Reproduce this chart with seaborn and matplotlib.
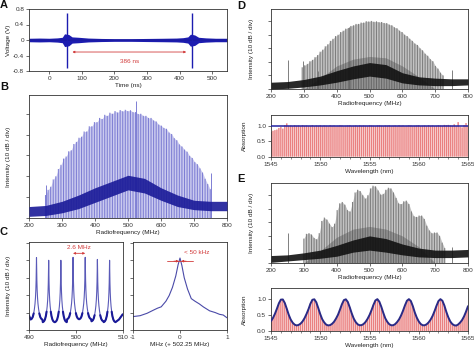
import numpy as np
import matplotlib
matplotlib.use("Agg")
import matplotlib.pyplot as plt
import seaborn as sns

# ---------------- data ----------------
# A: oscilloscope trace (noise envelope) and the two pulses
trace_t = [-62, -30, 0, 25, 40, 47, 60, 70, 90, 120, 160, 200, 250, 300,
           350, 390, 410, 425, 433, 446, 458, 480, 510, 545]
trace_hi = [0.045, 0.05, 0.045, 0.055, 0.07, 0.16, 0.14, 0.08, 0.07, 0.05, 0.04,
            0.035, 0.035, 0.04, 0.045, 0.05, 0.06, 0.08, 0.15, 0.13, 0.07, 0.055,
            0.045, 0.045]
trace_lo = [-0.045, -0.05, -0.045, -0.055, -0.07, -0.17, -0.15, -0.08, -0.07,
            -0.05, -0.04, -0.035, -0.035, -0.04, -0.045, -0.05, -0.06, -0.08,
            -0.16, -0.14, -0.07, -0.055, -0.045, -0.045]
pulse_t = [53, 439]
pulse_top = [0.70, 0.70]
pulse_bottom = [-0.73, -0.73]

# B, D, E: comb teeth (dB) on a regular grid, plus isolated spurs
tooth_spacing = 7.8
b_first = 250.0
b_teeth_db = [11, 13.5, 15, 18.5, 20, 23.5, 25.5, 28.5, 29.5, 32,
              32.5, 35.5, 36.5, 38.5, 39, 41.5, 41.5, 44, 44, 46,
              46, 48, 47.5, 49.5, 49, 50.5, 50, 51.3, 50.6, 51.8,
              51.2, 51.9, 51.3, 51.7, 50.8, 50.8, 49.9, 50, 49, 49,
              48, 48, 46.8, 46.3, 44.8, 44.3, 43.2, 42.8, 41, 40.3,
              38.3, 37.3, 35.3, 34.3, 32.8, 31.8, 29.8, 28.8, 26.8, 25.8,
              23.8, 21.8, 18.8, 16.3, 13.8]
b_spur_mhz = [250.5, 523.0, 750.5]
b_spur_db = [15.6, 56.0, 21.5]

d_first = 295.0
d_teeth_db = [16, 17.5, 18.5, 20.5, 21.5, 23.5, 25, 27.5, 29, 31.5,
              33, 35.5, 37, 39, 40, 42, 43, 44.5, 45, 46.5,
              47, 48, 48, 49, 49, 50, 49.8, 50.2, 49.6, 49.9,
              49.3, 49.4, 48.7, 48.6, 47.5, 47, 45.5, 44.8, 43, 42,
              40, 39, 37, 35.5, 33.5, 32.5, 30, 28.5, 26, 24.5,
              22, 20.5, 17, 15, 12, 10]
d_spur_mhz = [251, 298, 344, 437, 750]
d_spur_db = [21.5, 21, 13, 46, 14]

e_first = 300.0
e_teeth_db = [18, 21.5, 22, 21, 18.5, 17.5, 22, 31, 33.5, 32,
              29, 26.5, 29, 39, 44, 45, 43, 39, 38, 45,
              52, 54, 53, 50, 47.5, 50, 55, 57, 56.5, 53.5,
              50.5, 51, 54, 55.5, 55, 52, 48, 44, 43.5, 45.5,
              46, 43.5, 38, 34.5, 34, 35, 35, 32.5, 27.5, 24,
              22, 22.5, 22.5, 20, 15, 11]
e_spur_mhz = [251, 752]
e_spur_db = [22, 11.5]

# noise floor bands (dB)
floor_mhz = [200, 250, 300, 350, 400, 450, 500, 550, 600, 650, 700, 750, 800]
b_floor_lo = [0.8, 1.2, 2.5, 4.5, 7.5, 10.5, 13.5, 12.0, 8.5, 5.5, 4.0, 3.5, 3.5]
b_floor_hi = [5.5, 6.0, 8.0, 11.0, 14.5, 17.5, 20.5, 19.0, 14.5, 11.0, 8.5, 8.0, 8.0]
d_floor_lo = [0.0, 0.5, 1.5, 3.0, 5.0, 7.5, 9.5, 8.0, 4.5, 3.0, 2.5, 2.5, 3.0]
d_floor_hi = [5.0, 5.5, 7.0, 9.5, 13.5, 17.0, 19.5, 18.0, 12.0, 9.0, 8.0, 7.5, 7.5]
d_dense_hi = [0, 0, 0, 8, 17, 22, 24, 23, 17, 9, 0, 0, 0]
e_floor_lo = [0.5, 1.5, 2.5, 3.5, 5.0, 8.0, 9.5, 8.0, 6.0, 4.5, 4.0, 4.0, 4.5]
e_floor_hi = [5.5, 6.0, 7.5, 9.5, 13.0, 17.0, 20.0, 18.0, 14.0, 11.0, 9.5, 9.5, 10.0]
e_dense_hi = [0, 0, 0, 9, 19, 25, 27, 25, 20, 12, 0, 0, 0]

# C (left): zoomed comb lines, shared line shape relative to each peak
c_peak_mhz = [491.6, 494.2, 496.8, 499.4, 502.0, 504.6, 507.2]
c_peak_db = [41.5, 40.0, 40.0, 41.7, 41.7, 40.5, 40.0]
c_shape_off = [-1.25, -1.0, -0.8, -0.6, -0.45, -0.32, -0.22, -0.14, -0.08, -0.04,
               0.0, 0.04, 0.08, 0.14, 0.22, 0.32, 0.45, 0.6, 0.8, 1.0, 1.25]
c_shape_rel = [-35.5, -35, -34, -32, -29.5, -26.5, -23, -18.5, -13, -7,
               0, -7, -13, -18.5, -23, -26.5, -29.5, -32, -34, -35, -35.5]
c_lead_mhz, c_lead_db = [490.0], [8.3]
c_tail_mhz, c_tail_db = [509.2, 510.0], [6.0, 9.0]

# C (right): single line, offset from 502.25 MHz
c2_mhz = [-1.0, -0.85, -0.7, -0.55, -0.48, -0.4, -0.3, -0.23, -0.16, -0.09,
          -0.04, 0.0, 0.04, 0.09, 0.16, 0.24, 0.32, 0.41, 0.5, 0.63, 0.75,
          0.84, 0.92, 1.0]
c2_db = [7.7, 8.2, 9.6, 11.6, 12.5, 13.3, 16.5, 19.8, 24.5, 31.0,
         37.5, 41.3, 37.0, 30.0, 23.5, 18.0, 16.5, 15.0, 13.2, 11.0, 10.0,
         9.0, 8.6, 7.0]
linewidth_limit_mhz = 0.05

# D/E (bottom): absorption on the 0.2 nm wavelength grid
wavelength = np.linspace(1545, 1565, 101)
d_abs = [0.80, 0.84, 0.86, 0.88, 0.93, 0.96, 0.91, 1.02, 1.08, 0.99,
         1.01, 0.99, 1.02, 1.00, 1.01, 0.99, 1.02, 1.00, 1.01, 0.99,
         1.00, 1.02, 0.99, 1.01, 1.00, 1.02, 0.99, 1.01, 1.00, 0.99,
         1.02, 1.00, 1.01, 0.99, 1.00, 1.02, 1.01, 0.99, 1.00, 1.01,
         1.02, 0.99, 1.00, 1.01, 0.99, 1.02, 1.00, 1.01, 1.00, 0.99,
         1.02, 1.01, 1.00, 0.99, 1.01, 1.02, 1.00, 0.99, 1.01, 1.00,
         1.02, 0.99, 1.00, 1.01, 0.99, 1.02, 1.00, 1.01, 0.99, 1.00,
         1.02, 1.01, 0.99, 1.00, 1.01, 1.02, 0.99, 1.00, 1.01, 0.99,
         1.02, 1.00, 1.01, 0.99, 1.00, 1.02, 1.01, 1.00, 1.03, 1.02,
         1.03, 1.01, 1.00, 1.05, 0.99, 1.12, 0.97, 0.95, 1.02, 1.09, 1.00]
d_fit_level = 1.0
e_abs = [0.31, 0.41, 0.54, 0.70, 0.87, 0.985, 0.99, 0.88, 0.70, 0.51,
         0.36, 0.26, 0.20, 0.175, 0.19, 0.23, 0.30, 0.40, 0.53, 0.68,
         0.855, 0.98, 0.995, 0.90, 0.72, 0.53, 0.37, 0.27, 0.20, 0.175,
         0.185, 0.225, 0.29, 0.39, 0.51, 0.67, 0.84, 0.97, 0.995, 0.91,
         0.74, 0.55, 0.39, 0.28, 0.21, 0.18, 0.185, 0.22, 0.285, 0.38,
         0.50, 0.65, 0.82, 0.96, 1.00, 0.92, 0.76, 0.57, 0.40, 0.29,
         0.215, 0.18, 0.18, 0.215, 0.28, 0.365, 0.485, 0.635, 0.805, 0.95,
         1.00, 0.94, 0.78, 0.58, 0.42, 0.30, 0.22, 0.18, 0.18, 0.21,
         0.27, 0.355, 0.47, 0.62, 0.79, 0.94, 1.00, 0.95, 0.80, 0.60,
         0.43, 0.30, 0.22, 0.18, 0.17, 0.205, 0.265, 0.345, 0.46, 0.61, 0.78]

# ---------------- style ----------------
sns.set_theme(style="ticks")
FS = 4.6
plt.rcParams.update({
    "font.family": ["Liberation Sans", "DejaVu Sans"],
    "font.size": FS,
    "axes.linewidth": 0.6,
    "axes.edgecolor": "#333333",
    "axes.labelsize": FS,
    "axes.labelcolor": "#222222",
    "xtick.labelsize": FS, "ytick.labelsize": FS,
    "xtick.color": "#333333", "ytick.color": "#333333",
    "xtick.major.size": 2.0, "ytick.major.size": 2.0,
    "xtick.minor.size": 1.2, "ytick.minor.size": 1.2,
    "xtick.major.width": 0.5, "ytick.major.width": 0.5,
    "xtick.minor.width": 0.4, "ytick.minor.width": 0.4,
    "xtick.major.pad": 1.5, "ytick.major.pad": 1.5,
    "xtick.direction": "out", "ytick.direction": "out",
    "axes.labelpad": 1.5,
})

BLUE = "#1c1cb0"
NAVY = "#1a1a98"
B_TOOTH = "#7e7ed4"
B_PALE = "#cbcbef"
G_TOOTH = "#7e7e7e"
G_PALE = "#c4c4c4"
G_DENSE = "#4a4a4a"
RED = "#d23c3c"
BAR_FACE = "#ea8080"
FIT = "#2a2a86"

W, H = 474, 349
fig = plt.figure(figsize=(W / 100, H / 100), dpi=100)


def box(left, top, right, bottom):
    ax = fig.add_axes([left / W, 1 - bottom / H, (right - left) / W, (bottom - top) / H])
    for s in ax.spines.values():
        s.set_visible(True)
    return ax


def spectrum(ax, first, teeth, spur_f, spur_db, floor_lo, floor_hi,
             tooth_c, pale_c, floor_c, dense=None):
    f = first + tooth_spacing * np.arange(len(teeth))
    ax.fill_between(f, 0, teeth, color=pale_c, lw=0, zorder=1)
    ax.vlines(f, 0, teeth, color=tooth_c, lw=0.75, zorder=2, snap=False)
    ax.vlines(spur_f, 0, spur_db, color=tooth_c, lw=0.7, zorder=2)
    if dense is not None:
        ax.fill_between(floor_mhz, 0, dense, color=G_DENSE, lw=0, alpha=0.4, zorder=3)
    ax.fill_between(floor_mhz, floor_lo, floor_hi, color=floor_c, lw=0,
                    alpha=0.9, zorder=4)
    ax.set_xlim(200, 800)
    ax.set_ylim(0, 59)
    ax.set_xticks(range(200, 801, 100))
    ax.set_yticks(range(0, 60, 10))
    ax.set_yticklabels([])
    ax.set_xlabel("Radiofrequency (MHz)")
    ax.set_ylabel("Intensity (10 dB / div)")


# ---------------- A ----------------
axA = box(29, 9, 227, 71)
axA.fill_between(trace_t, trace_lo, trace_hi, color=BLUE, lw=0)
sns.lineplot(x=trace_t, y=np.add(trace_hi, trace_lo) / 2, ax=axA, color=NAVY, lw=0.6)
axA.vlines(pulse_t, pulse_bottom, pulse_top, color=BLUE, lw=1.0)
axA.set_xlim(-62, 545)
axA.set_ylim(-0.8, 0.8)
axA.set_xticks(range(0, 501, 100))
axA.set_yticks([-0.8, -0.4, 0, 0.4, 0.8])
axA.set_yticklabels(["-0.8", "-0.4", "0", "0.4", "0.8"])
axA.set_xlabel("Time (ns)")
axA.set_ylabel("Voltage (V)")
gap = pulse_t[1] - pulse_t[0]
axA.annotate("", xy=(pulse_t[1] - 19, -0.31), xytext=(pulse_t[0] + 18, -0.31),
             arrowprops=dict(arrowstyle="<|-|>", color=RED, lw=0.6,
                             shrinkA=0, shrinkB=0, mutation_scale=3))
axA.text((pulse_t[0] + pulse_t[1]) / 2 + 2, -0.55, f"{gap} ns", color=RED,
         ha="center", va="center", fontsize=FS)

# ---------------- B ----------------
axB = box(29, 95, 227, 218)
spectrum(axB, b_first, b_teeth_db, b_spur_mhz, b_spur_db, b_floor_lo, b_floor_hi,
         B_TOOTH, B_PALE, NAVY)

# ---------------- C ----------------
axC1 = box(29, 242, 122.7, 330)
cx = list(c_lead_mhz)
cy = list(c_lead_db)
for p, h in zip(c_peak_mhz, c_peak_db):
    cx += [p + o for o in c_shape_off]
    cy += [h + r for r in c_shape_rel]
cx += c_tail_mhz
cy += c_tail_db
cx = np.array(cx)
cy = np.array(cy)
sns.lineplot(x=cx, y=cy, ax=axC1, color="#5a5ab8", lw=0.8, sort=False, estimator=None)
axC1.plot(cx, np.where(cy < 11, cy, np.nan), color=NAVY, lw=1.5)
axC1.set_xlim(490, 510)
axC1.set_ylim(0, 50.5)
axC1.set_xticks([490, 500, 510])
axC1.set_yticks(range(0, 51, 10))
axC1.set_yticklabels([])
axC1.set_xlabel("Radiofrequency (MHz)")
axC1.set_ylabel("Intensity (10 dB / div)")
axC1.annotate("", xy=(c_peak_mhz[4], 44.0), xytext=(c_peak_mhz[3], 44.0),
              arrowprops=dict(arrowstyle="<|-|>", color=RED, lw=0.6,
                              shrinkA=0, shrinkB=0, mutation_scale=3))
spacing_label = c_peak_mhz[4] - c_peak_mhz[3]
axC1.text((c_peak_mhz[3] + c_peak_mhz[4]) / 2, 47.2, f"{spacing_label:.1f} MHz",
          color=RED, ha="center", va="center", fontsize=FS)

axC2 = box(133, 242, 227, 330)
sns.lineplot(x=c2_mhz, y=c2_db, ax=axC2, color="#4a4aa8", lw=0.8, sort=False, estimator=None)
axC2.set_xlim(-1, 1)
axC2.set_ylim(0, 50.5)
axC2.set_xticks([-1, 0, 1])
axC2.set_xticklabels(["-1", "0", "1"])
axC2.set_yticks(range(0, 51, 10))
axC2.set_yticklabels([])
axC2.set_xlabel("MHz (+ 502.25 MHz)")
half = linewidth_limit_mhz / 2
axC2.plot([-0.27, 0.27], [39.5, 39.5], color=RED, lw=0.6)
for side in (-1, 1):
    axC2.annotate("", xy=(side * half, 39.5), xytext=(side * 0.13, 39.5),
                  arrowprops=dict(arrowstyle="-|>", color=RED, lw=0.6,
                                  shrinkA=0, shrinkB=0, mutation_scale=3))
axC2.text(0.36, 44.7, f"< {linewidth_limit_mhz * 1000:.0f} kHz", color=RED,
          ha="center", va="center", fontsize=FS)

# ---------------- D ----------------
axD = box(271, 9, 468, 89)
spectrum(axD, d_first, d_teeth_db, d_spur_mhz, d_spur_db, d_floor_lo, d_floor_hi,
         G_TOOTH, G_PALE, "#111111", dense=d_dense_hi)


def absorption(ax, values):
    sns.barplot(x=wavelength, y=values, native_scale=True, width=0.72,
                color=BAR_FACE, linewidth=0, saturation=1, errorbar=None,
                ax=ax, zorder=1)
    for bar in ax.patches:
        bar.set_snap(False)
    ax.set_xlim(1545, 1565)
    ax.set_ylim(0, 1.35)
    ax.set_xticks([1545, 1550, 1555, 1560, 1565])
    ax.set_xticklabels(["1545", "1550", "1555", "1560", "1565"])
    ax.set_xticks(range(1545, 1566), minor=True)
    ax.set_yticks([0, 0.5, 1.0])
    ax.set_yticklabels(["0.0", "0.5", "1.0"])
    ax.set_xlabel("Wavelength (nm)")
    ax.set_ylabel("Absorption")


axDb = box(271, 115, 468, 156.7)
absorption(axDb, d_abs)
axDb.axhline(d_fit_level, color="#2020a0", lw=1.1, zorder=3)

# ---------------- E ----------------
axE = box(271, 183, 468, 263)
spectrum(axE, e_first, e_teeth_db, e_spur_mhz, e_spur_db, e_floor_lo, e_floor_hi,
         G_TOOTH, G_PALE, "#111111", dense=e_dense_hi)

axEb = box(271, 288, 468, 331)
absorption(axEb, e_abs)
sns.lineplot(x=wavelength, y=e_abs, ax=axEb, color=FIT, lw=1.4, zorder=3)

# panel letters
for letter, x, y in [("A", 0, 0), ("B", 0, 82), ("C", 0, 227), ("D", 237, 1), ("E", 237, 174)]:
    fig.text(x / W, 1 - y / H, letter, fontsize=8, fontweight="bold",
             ha="left", va="top", color="#111111")

for ax in (axA, axB, axC1):
    ax.yaxis.set_label_coords((11 - 29) / (ax.get_position().width * W), 0.5)
for ax in (axD, axE):
    ax.yaxis.set_label_coords((254 - 271) / 197, 0.5)
for ax in (axDb, axEb):
    ax.yaxis.set_label_coords((247 - 271) / 197, 0.5)

fig.savefig("out.png", dpi=100)
